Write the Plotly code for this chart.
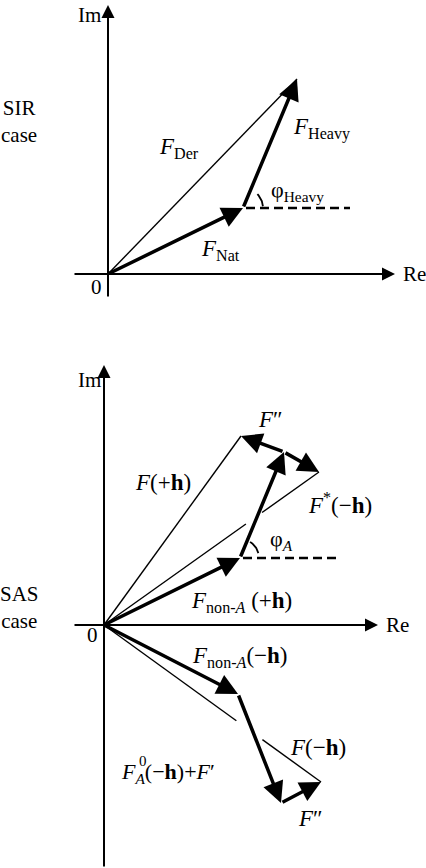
"""Argand diagrams of the SIR and SAS cases, structure factor vectors"""

import numpy as np
import plotly.graph_objects as go

# --- data: vector end points (Re, Im), origin = 0 ---
# SIR case
sir_nat = (135, 66)          # F_Nat
sir_heavy_tip = (189, 195)   # F_Nat + F_Heavy = F_Der
sir_dash_end = 242           # end of the phase reference line (Re)
sir_re_axis = (-35, 287)
sir_im_axis = (-24, 269)

# SAS case
sas_nonA_plus = (136, 67)    # F_non-A(+h)
sas_A_plus_tip = (180, 173)  # F_non-A(+h) + F_A(+h) + F'
sas_plus = (137, 189)        # F(+h)
sas_conj_minus = (215, 153)  # F*(-h)
sas_dash_end = 234
sas_nonA_minus = (134, -69)  # F_non-A(-h)
sas_A_minus_tip = (177, -178)
sas_minus = (217, -157)      # F(-h)
sas_re_axis = (-31, 274)
sas_im_axis = (-243, 260)

# gaps in thin lines (fraction of length) where they pass behind a vector
gap_conj_minus = (0.66, 0.735)
gap_minus = (0.61, 0.73)

FONT = "Liberation Serif, Times New Roman, serif"
W, H = 426, 868

fig = go.Figure()
annotations = []


def arrow(tail, tip, ax_id, width=3.5, size=1.2, head=2):
    xr = "x" if ax_id == 1 else "x2"
    yr = "y" if ax_id == 1 else "y2"
    annotations.append(dict(
        x=tip[0], y=tip[1], ax=tail[0], ay=tail[1],
        xref=xr, yref=yr, axref=xr, ayref=yr,
        text="", showarrow=True, arrowhead=head, arrowsize=size,
        arrowwidth=width, arrowcolor="black", standoff=0, startstandoff=0,
    ))


def line(pts, ax_id, width=1.4, dash="solid"):
    fig.add_trace(go.Scatter(
        x=[p[0] for p in pts], y=[p[1] for p in pts],
        mode="lines", line=dict(color="black", width=width, dash=dash),
        xaxis="x" if ax_id == 1 else "x2", yaxis="y" if ax_id == 1 else "y2",
        hoverinfo="skip", showlegend=False,
    ))


def broken_line(tip, gap, ax_id):
    a = (tip[0] * gap[0], tip[1] * gap[0])
    b = (tip[0] * gap[1], tip[1] * gap[1])
    line([(0, 0), a], ax_id)
    line([b, tip], ax_id)


def phase_arc(center, ax_id, r=20, a0=5, a1=56):
    t = np.radians(np.linspace(a0, a1 - 12, 20))
    pts = [(center[0] + r * np.cos(v), center[1] + r * np.sin(v)) for v in t]
    line(pts, ax_id, width=1.8)
    end = np.radians(a1)
    arrow(pts[-1], (center[0] + r * np.cos(end), center[1] + r * np.sin(end)),
          ax_id, width=1.8, size=1.4)


def label(x, y, txt, ax_id, size=21, align="center"):
    annotations.append(dict(
        x=x, y=y, text=txt, showarrow=False,
        xref="x" if ax_id == 1 else "x2", yref="y" if ax_id == 1 else "y2",
        font=dict(family=FONT, size=size, color="black"), align=align,
    ))


# ---------------- SIR case ----------------
arrow((sir_re_axis[0], 0), (sir_re_axis[1], 0), 1, width=2, size=1.3)
arrow((0, sir_im_axis[0]), (0, sir_im_axis[1]), 1, width=2, size=1.3)
line([(0, 0), sir_heavy_tip], 1)
line([(sir_nat[0] + 3, sir_nat[1]), (sir_dash_end, sir_nat[1])], 1,
     width=2.5, dash="9px,5px")
arrow((0, 0), sir_nat, 1)
arrow(sir_nat, sir_heavy_tip, 1)
phase_arc(sir_nat, 1)

label(-19, 259, "Im", 1)
label(306, 0, "Re", 1)
label(-12, -13, "0", 1)
label(71, 126, "<i>F</i><sub>Der</sub>", 1, size=23)
label(213, 146, "<i>F</i><sub>Heavy</sub>", 1, size=23)
label(189, 83, "φ<sub>Heavy</sub>", 1, size=22)
label(112, 24, "<i>F</i><sub>Nat</sub>", 1, size=23)
label(-89, 153, "SIR<br>case", 1, size=21)

# ---------------- SAS case ----------------
arrow((sas_re_axis[0], 0), (sas_re_axis[1], 0), 2, width=2, size=1.3)
arrow((0, sas_im_axis[0]), (0, sas_im_axis[1]), 2, width=2, size=1.3)

line([(0, 0), sas_plus], 2)
broken_line(sas_conj_minus, gap_conj_minus, 2)
broken_line(sas_minus, gap_minus, 2)
line([(sas_nonA_plus[0] + 3, sas_nonA_plus[1]), (sas_dash_end, sas_nonA_plus[1])],
     2, width=2.5, dash="9px,5px")

arrow((0, 0), sas_nonA_plus, 2)
arrow(sas_nonA_plus, sas_A_plus_tip, 2)
arrow(sas_A_plus_tip, sas_plus, 2)
arrow(sas_A_plus_tip, sas_conj_minus, 2)
phase_arc(sas_nonA_plus, 2, r=19, a0=15, a1=70)

arrow((0, 0), sas_nonA_minus, 2)
arrow(sas_nonA_minus, sas_A_minus_tip, 2)
arrow(sas_A_minus_tip, sas_minus, 2)

label(-15, 245, "Im", 2)
label(293, 0, "Re", 2)
label(-12, -10, "0", 2)
label(166, 206, "<i>F</i>″", 2, size=23)
label(59, 143, "<i>F</i>(+<b>h</b>)", 2, size=23)
label(236, 122, "<i>F</i><sup>*</sup>(−<b>h</b>)", 2, size=23)
label(177, 85, "φ<sub><i>A</i></sub>", 2, size=22)
label(137, 23, "<i>F</i><sub>non-<i>A</i></sub> (+<b>h</b>)", 2, size=23)
label(-85, 18, "SAS<br>case", 2, size=21)
label(136, -32, "<i>F</i><sub>non-<i>A</i></sub>(−<b>h</b>)", 2, size=23)
label(214, -122, "<i>F</i>(−<b>h</b>)", 2, size=23)
label(64, -148, "<i>F</i><sub><i>A</i></sub>(−<b>h</b>)+<i>F</i>′", 2, size=22)
label(39, -136, "0", 2, size=15)  # superscript stacked over the A subscript
label(206, -193, "<i>F</i>″", 2, size=23)

split = 1 - 330 / H
hidden = dict(visible=False, showgrid=False, zeroline=False, fixedrange=True)
fig.update_layout(
    width=W, height=H,
    margin=dict(l=0, r=0, t=0, b=0),
    paper_bgcolor="white", plot_bgcolor="white",
    xaxis=dict(range=[-108, W - 108], domain=[0, 1], anchor="y", **hidden),
    yaxis=dict(range=[-56, 274], domain=[split, 1], anchor="x", **hidden),
    xaxis2=dict(range=[-104, W - 104], domain=[0, 1], anchor="y2", **hidden),
    yaxis2=dict(range=[-243, 295], domain=[0, split], anchor="x2", **hidden),
    annotations=annotations,
    showlegend=False,
)

# drop the browser's default body margin so the figure sits at the top-left
fig.write_html("out.html", config={"displayModeBar": False},
               post_script="document.body.style.margin='0';")
